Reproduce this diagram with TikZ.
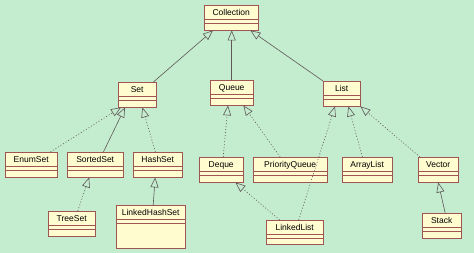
\documentclass[tikz,border=0pt]{standalone}
\usepackage{fontspec}
\setmainfont{Liberation Sans}
\usetikzlibrary{arrows.meta}
\definecolor{bgreen}{RGB}{196,236,206}
\definecolor{boxfill}{RGB}{255,252,208}
\definecolor{boxline}{RGB}{160,84,84}
\definecolor{edgeline}{RGB}{96,88,88}

\begin{document}
\begin{tikzpicture}[x=1pt, y=-1pt, every node/.style={rectangle, draw=boxline, fill=boxfill, anchor=north west, inner xsep=2pt, inner ysep=0pt, text height=10.5pt, text depth=14.5pt, font=\fontsize{8.5}{10}\selectfont, path picture={\draw[boxline] ([yshift=-14pt]path picture bounding box.north west) -- ([yshift=-14pt]path picture bounding box.north east) ([yshift=-18.5pt]path picture bounding box.north west) -- ([yshift=-18.5pt]path picture bounding box.north east);}}, inherit/.style={->, draw=edgeline, line width=0.6pt}, realize/.style={inherit, dash pattern=on 1pt off 2pt}, >={Triangle[open, length=10pt, width=8pt]}]
        \useasboundingbox[fill=bgreen] (0,0) rectangle (474,253);
        \node[minimum width=54pt] (coll) at (204,5) {Collection};
        \node[minimum width=38pt] (set) at (118,82) {Set};
        \node[minimum width=43pt] (queue) at (210,80) {Queue};
        \node[minimum width=37pt] (list) at (323,81) {List};
        \node[minimum width=52pt] (enumset) at (5,152) {EnumSet};
        \node[minimum width=56pt] (sortedset) at (67,152) {SortedSet};
        \node[minimum width=49pt] (hashset) at (133,152) {HashSet};
        \node[minimum width=44pt] (deque) at (199,157) {Deque};
        \node[minimum width=74pt] (pqueue) at (253,157) {PriorityQueue};
        \node[minimum width=50pt] (arraylist) at (342,157) {ArrayList};
        \node[minimum width=40pt] (vector) at (418,157) {Vector};
        \node[minimum width=47pt] (treeset) at (48,211) {TreeSet};
        \node[minimum width=69pt, text depth=32.5pt] (lhashset) at (116,205) {LinkedHashSet};
        \node[minimum width=57pt, text depth=13.5pt] (llist) at (266,220) {LinkedList};
        \node[minimum width=39pt] (stack) at (422,213) {Stack};
        % extends
        \draw[inherit] ([xshift=-3pt]set.north east) -- ([xshift=9pt]coll.south west);
        \draw[inherit] (queue.north) -- (queue.north |- coll.south);
        \draw[inherit] (list.north west) -- ([xshift=-8pt]coll.south east);
        \draw[inherit] ([xshift=-20pt]sortedset.north east) -- ([xshift=7pt]set.south west);
        \draw[inherit] ([xshift=2.5pt]lhashset.north) -- ([xshift=-2.5pt]hashset.south);
        \draw[inherit] ([xshift=3.5pt]stack.north) -- (vector.south);
        % implements
        \draw[realize] ([xshift=-7pt]enumset.north east) -- ([xshift=3pt]set.south west);
        \draw[realize] ([xshift=-27pt]hashset.north east) -- ([xshift=-14pt]set.south east);
        \draw[realize] ([xshift=6pt]treeset.north) -- ([xshift=-6pt]sortedset.south);
        \draw[realize] ([xshift=2pt]deque.north) -- ([xshift=18pt]queue.south west);
        \draw[realize] ([xshift=-10pt]pqueue.north) -- ([xshift=-10pt]queue.south east);
        \draw[realize] ([xshift=-15pt]llist.north) -- ([xshift=-8pt]deque.south east);
        \draw[realize] ([xshift=4pt]llist.north) -- ([xshift=12pt]list.south west);
        \draw[realize] ([xshift=-30pt]arraylist.north east) -- ([xshift=-12pt]list.south east);
        \draw[realize] ([xshift=2pt]vector.north west) -- (list.south east);
    \end{tikzpicture}
\end{document}
